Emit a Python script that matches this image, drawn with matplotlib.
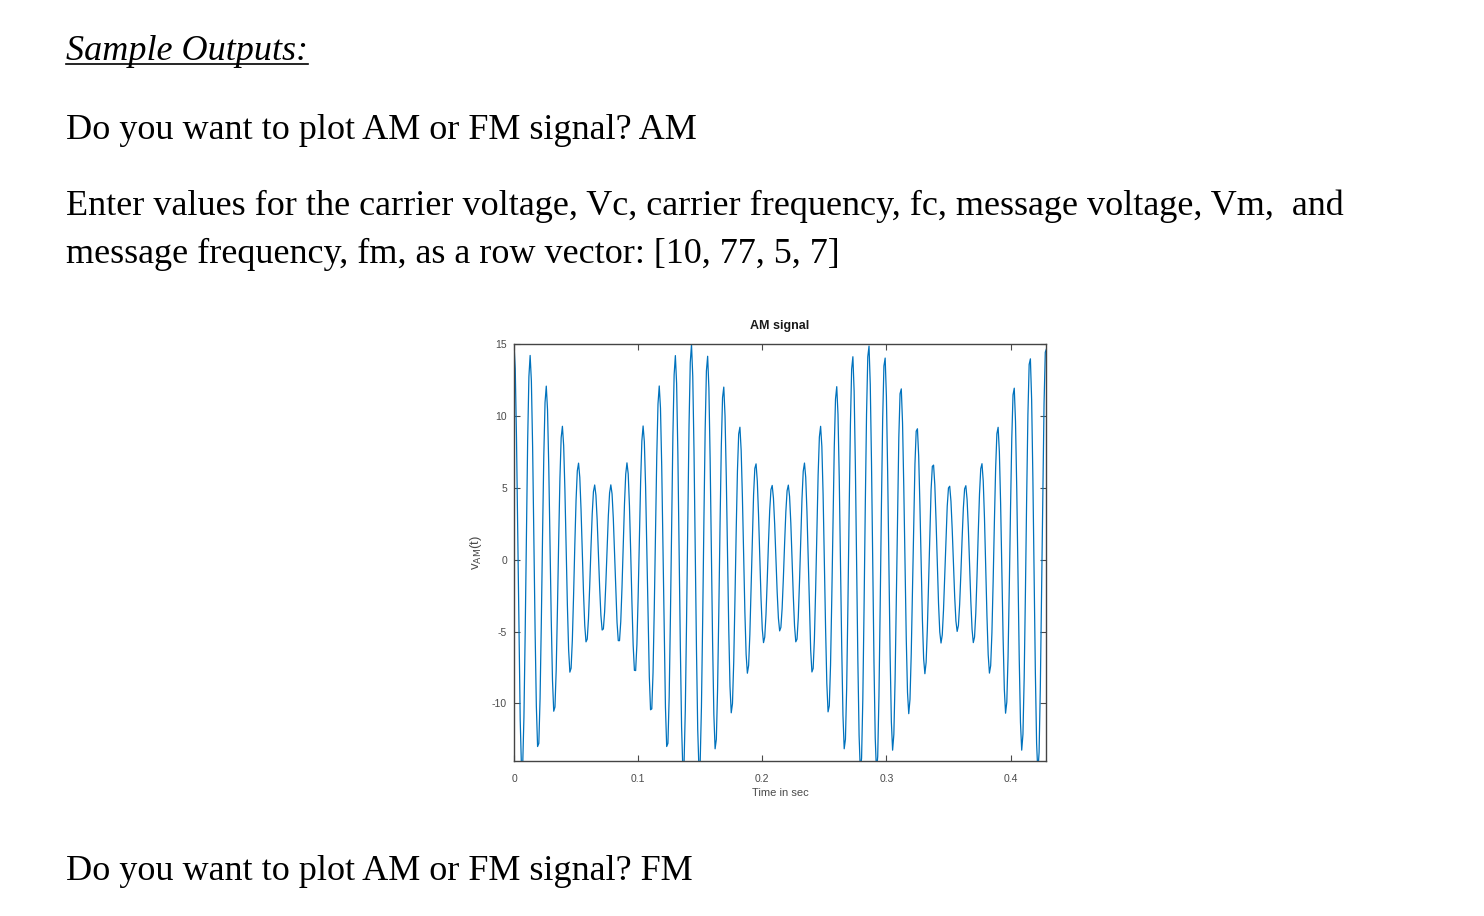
import numpy as np
import matplotlib
matplotlib.use("Agg")
import matplotlib.pyplot as plt
from matplotlib.lines import Line2D

row_vector = [10, 77, 5, 7]
Vc, fc, Vm, fm = row_vector
dt = 0.001  # paso de muestreo
x_ticks = [0, 0.1, 0.2, 0.3, 0.4]
y_ticks = [-10, -5, 0, 5, 10, 15]
y_limits = [-14, 15]

t = np.arange(0, 3 / fm + dt / 2, dt)
v_am = (Vc + Vm * np.cos(2 * np.pi * fm * t)) * np.cos(2 * np.pi * fc * t)

W, H = 1484, 916
fig = plt.figure(figsize=(W / 100, H / 100), dpi=100)
fig.patch.set_facecolor("white")

serif = "Liberation Serif"
fs_doc = 26

def doc_text(x, y, s, **kw):
    return fig.text(x / W, 1 - y / H, s, family=serif, fontsize=fs_doc,
                    va="baseline", ha="left", color="black", **kw)

title_txt = doc_text(66, 60, "Sample Outputs:", style="italic")
doc_text(66, 139, "Do you want to plot AM or FM signal? AM")
doc_text(66, 215, "Enter values for the carrier voltage, Vc, carrier frequency, fc, message voltage, Vm,  and")
doc_text(66, 263, "message frequency, fm, as a row vector: [10, 77, 5, 7]")
doc_text(66, 880, "Do you want to plot AM or FM signal? FM")

# subrayado de "Sample Outputs:"
fig.canvas.draw()
bb = title_txt.get_window_extent()
fig.add_artist(Line2D([bb.x0 / W, bb.x1 / W], [1 - 64 / H, 1 - 64 / H],
                      transform=fig.transFigure, color="black", lw=1.2))

# ejes del grafico
ax = fig.add_axes([514 / W, 1 - 761 / H, (1046 - 514) / W, (761 - 344) / H])
ax.plot(t, v_am, color="#0072BD", lw=0.9)
ax.set_xlim(0, 3 / fm)
ax.set_ylim(*y_limits)
ax.set_xticks(x_ticks)
ax.set_yticks(y_ticks)
ax.set_xticklabels(["0", "0.1", "0.2", "0.3", "0.4"])
ax.set_yticklabels([str(v) for v in y_ticks])

sans = "Liberation Sans"
grey = "#4a4a4a"
ax.tick_params(direction="in", length=4, width=0.8, colors=grey,
               labelsize=7.5, top=True, right=True)
ax.tick_params(axis="x", pad=9)
ax.tick_params(axis="y", pad=5)
for lab in ax.get_xticklabels() + ax.get_yticklabels():
    lab.set_family(sans)
for sp in ax.spines.values():
    sp.set_color("#444444")
    sp.set_linewidth(1.0)

ax.set_title("AM signal", family=sans, fontsize=9, fontweight="bold",
             color="#1a1a1a", pad=11)
ax.set_xlabel("Time in sec", family=sans, fontsize=8, color=grey, labelpad=3)
plt.rcParams["mathtext.fontset"] = "custom"
plt.rcParams["mathtext.rm"] = sans
ax.set_ylabel("v$_{\\mathrm{AM}}$(t)", family=sans, fontsize=9.5,
              color=grey, labelpad=6)

fig.savefig("out.png", dpi=100, facecolor="white")
